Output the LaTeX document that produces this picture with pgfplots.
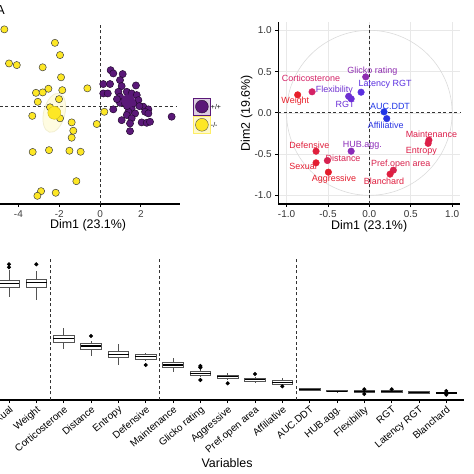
\documentclass[border=0pt]{standalone}
\usepackage{pgfplots}
\pgfplotsset{compat=1.18}
\usepgfplotslibrary{statistics}
\usepackage{fontspec}
\setmainfont{Liberation Sans}

\definecolor{vpurple}{HTML}{5A1878}
\definecolor{vyellow}{HTML}{FDE725}
\definecolor{cWeight}{HTML}{E8202A}
\definecolor{cCort}{HTML}{D42266}
\definecolor{cDef}{HTML}{E0203C}
\definecolor{cSex}{HTML}{E41C30}
\definecolor{cAggr}{HTML}{E31C2C}
\definecolor{cDist}{HTML}{D62250}
\definecolor{cMaint}{HTML}{DC1F4C}
\definecolor{cEntr}{HTML}{DD1F48}
\definecolor{cPref}{HTML}{D8244E}
\definecolor{cBlan}{HTML}{DF1F40}
\definecolor{cHUB}{HTML}{8A2BB8}
\definecolor{cGlicko}{HTML}{8E2CB0}
\definecolor{cFlex}{HTML}{6E2FD0}
\definecolor{cRGT}{HTML}{6A2DD6}
\definecolor{cLat}{HTML}{5A2FE0}
\definecolor{cAUC}{HTML}{1F35E6}
\definecolor{cAffil}{HTML}{2A35E2}

\newcommand{\tickfont}{\fontsize{10}{12}\selectfont}
\newcommand{\titlefont}{\fontsize{12.5}{15}\selectfont}
\newcommand{\varfont}{\fontsize{9}{10.5}\selectfont}

\pgfplotsset{
  pcadash/.style={black!80, line width=0.7bp, dash pattern=on 3bp off 2.5bp},
  bx/.style={
    draw=gray!65!black, line width=0.8bp, solid,
    mark=*, mark size=1.6bp, mark options={fill=black, draw=black},
    boxplot/draw direction=y,
    boxplot/whisker extend=0,
    boxplot/box extend=0.76,
    boxplot/every box/.style={fill=white, draw=gray!65!black, line width=0.8bp},
    boxplot/every whisker/.style={gray!65!black, line width=0.8bp},
    boxplot/every median/.style={black, line width=1.2bp},
  },
  vpt/.style={only marks, mark=*, mark size=3.3bp, mark options={fill=#1, draw=#1}},
}

\begin{document}
\begin{tikzpicture}
\useasboundingbox (0bp,0bp) rectangle (474bp,474bp);
\clip (0bp,0bp) rectangle (474bp,474bp);

% ---------- individuals map ----------
\begin{axis}[
  at={(-22.4bp,270bp)}, anchor=south west, scale only axis,
  width=202bp, height=183.6bp,
  xmin=-6, xmax=3.9, ymin=-4.8, ymax=4.2,
  axis x line=bottom, axis y line=none,
  axis line style={-, line width=1.1bp, black},
  xtick={-4,-2,0,2}, xticklabels={-4,-2,0,2},
  tick align=outside, major tick length=3bp,
  tick style={black, line width=0.8bp},
  xticklabel style={font=\tickfont, text=black!75},
  xlabel={Dim1 (23.1\%)},
  xlabel style={at={(axis description cs:0.547,-0.114)}, anchor=center, font=\titlefont},
  clip=false,
  legend style={at={(axis cs:4.54,0.43)}, anchor=north west, draw=none, fill=none,
    inner sep=0pt, row sep=0pt, font=\fontsize{7}{8}\selectfont,
    nodes={inner sep=0pt, text depth=0pt}},
  legend cell align=left,
  /tikz/every even column/.append style={column sep=4bp},
]
\addlegendimage{legend image code/.code={
  \draw[draw=vpurple, fill=vpurple!22, line width=0.8bp] (0bp,-8.7bp) rectangle (17.3bp,8.7bp);
  \draw[fill=vpurple, draw=black!60!vpurple, line width=0.4bp] (8.65bp,0bp) circle (6.4bp);}}
\addlegendentry{+/+}
\addlegendimage{legend image code/.code={
  \draw[draw=vyellow!70!white, fill=vyellow!25, line width=0.8bp] (0bp,-8.7bp) rectangle (17.3bp,8.7bp);
  \draw[fill=vyellow, draw=black!70, line width=0.4bp] (8.65bp,0bp) circle (6.4bp);}}
\addlegendentry{-/-}

\addplot[pcadash, forget plot] coordinates {(-6,0) (3.77,0)};
\addplot[pcadash, forget plot] coordinates {(0,-4.8) (0,3.97)};

% -/- animals
\addplot[only marks, mark=*, mark size=3.6bp, forget plot,
  mark options={fill=vyellow, draw=black!75, line width=0.5bp}] coordinates {
  (-4.69,3.76) (-2.21,3.10) (-1.96,2.50) (-4.46,2.09) (-4.08,2.01)
  (-2.81,1.90) (-1.91,1.41) (-2.53,0.85) (-3.14,0.65) (-2.81,0.67)
  (-1.85,0.78) (-0.62,0.87) (-3.05,0.21) (-2.01,0.34) (0.21,-0.28)
  (-3.32,-0.48) (-2.45,-0.06) (-1.96,-0.60) (-0.16,-0.88) (-1.39,-0.80)
  (-1.31,-1.21) (-1.39,-1.55) (-3.30,-2.25) (-2.50,-2.16) (-1.50,-2.19)
  (-0.95,-2.24) (-1.16,-3.68) (-2.89,-4.17) (-3.07,-4.40) (-2.17,-4.25)
};
% +/+ animals
\addplot[only marks, mark=*, mark size=3.6bp, forget plot,
  mark options={fill=vpurple, draw=black!60!vpurple, line width=0.5bp}] coordinates {
  (0.52,1.76) (0.65,1.60) (1.11,1.57) (0.16,1.08) (0.49,1.08)
  (0.98,1.27) (1.76,1.01) (1.06,0.98) (0.16,0.62) (0.38,0.62)
  (0.90,0.70) (1.31,0.70) (1.55,0.62) (0.98,0.46) (1.80,0.54)
  (1.06,0.21) (1.88,0.29) (0.98,0.16) (2.12,-0.03) (2.37,-0.16)
  (0.65,-0.16) (1.55,-0.11) (1.93,0.00) (2.21,-0.28) (1.39,-0.28)
  (1.72,-0.36) (1.31,-0.44) (2.37,-0.36) (3.51,-0.52) (1.55,-0.60)
  (1.06,-0.69) (2.04,-0.80) (2.29,-0.82) (2.45,-0.77) (1.47,-0.85)
  (1.47,-1.23) (1.23,0.13) (1.63,0.13) (1.32,0.00) (0.83,0.34)
};
% concentration ellipse of the -/- group
\draw[draw=vyellow!75!black!20!white, fill=vyellow!40, fill opacity=0.35, line width=0.8bp,
  rotate around={-14:(axis cs:-2.24,-0.33)}] (axis cs:-2.24,-0.33) ellipse [x radius=0.52, y radius=0.98];
% group means
\addplot[only marks, mark=*, mark size=6.5bp, forget plot,
  mark options={fill=vyellow, draw=vyellow!80!black, line width=0.4bp}] coordinates {(-2.24,-0.33)};
\addplot[only marks, mark=*, mark size=6.5bp, forget plot,
  mark options={fill=vpurple, draw=vpurple, line width=0.4bp}] coordinates {(1.39,0.25)};
\end{axis}

% panel tag
\node[font=\fontsize{13}{15}\selectfont, anchor=center] at (0.5bp,463.5bp) {A};

% ---------- correlation circle ----------
\begin{axis}[
  at={(278.3bp,270bp)}, anchor=south west, scale only axis,
  width=181.7bp, height=181.5bp,
  xmin=-1.1, xmax=1.095, ymin=-1.105, ymax=1.095,
  axis x line*=bottom, axis y line*=left,
  axis line style={-, line width=1.1bp, black},
  xtick={-1,-0.5,0,0.5,1}, xticklabels={-1.0,-0.5,0.0,0.5,1.0},
  ytick={-1,-0.5,0,0.5,1}, yticklabels={-1.0,-0.5,0.0,0.5,1.0},
  tick align=outside, major tick length=3bp,
  tick style={black, line width=0.8bp},
  ticklabel style={font=\tickfont, text=black!80},
  grid=major, grid style={black!9, line width=0.5bp},
  xlabel={Dim1 (23.1\%)},
  xlabel style={at={(axis description cs:0.5,-0.125)}, anchor=center, font=\titlefont},
  ylabel={Dim2 (19.6\%)},
  ylabel style={at={(axis description cs:-0.174,0.5)}, anchor=center, font=\titlefont},
  clip=false,
]
\draw[black!14, line width=0.6bp] (axis cs:0,0) circle [radius=1];
\addplot[pcadash] coordinates {(-1.1,0) (1.095,0)};
\addplot[pcadash] coordinates {(0,-1.105) (0,1.095)};

\addplot[vpt=cWeight] coordinates {(-0.866,0.218)};
\addplot[vpt=cCort] coordinates {(-0.692,0.255)};
\addplot[vpt=cFlex] coordinates {(-0.25,0.20)};
\addplot[vpt=cRGT] coordinates {(-0.22,0.17)};
\addplot[vpt=cLat] coordinates {(-0.10,0.25)};
\addplot[vpt=cGlicko] coordinates {(-0.044,0.436)};
\addplot[vpt=cAUC] coordinates {(0.177,0.012)};
\addplot[vpt=cAffil] coordinates {(0.21,-0.07)};
\addplot[vpt=cMaint] coordinates {(0.72,-0.33)};
\addplot[vpt=cEntr] coordinates {(0.71,-0.37)};
\addplot[vpt=cDef] coordinates {(-0.644,-0.465)};
\addplot[vpt=cSex] coordinates {(-0.644,-0.606)};
\addplot[vpt=cDist] coordinates {(-0.507,-0.578)};
\addplot[vpt=cAggr] coordinates {(-0.495,-0.719)};
\addplot[vpt=cHUB] coordinates {(-0.22,-0.465)};
\addplot[vpt=cPref] coordinates {(0.29,-0.695)};
\addplot[vpt=cBlan] coordinates {(0.25,-0.743)};

\begin{scope}[font=\varfont]
\node[text=cCort] at (axis cs:-0.705,0.416) {Corticosterone};
\node[text=cWeight] at (axis cs:-0.894,0.141) {Weight};
\node[text=cFlex] at (axis cs:-0.423,0.271) {Flexibility};
\node[text=cRGT] at (axis cs:-0.294,0.100) {RGT};
\node[text=cGlicko] at (axis cs:0.036,0.505) {Glicko rating};
\node[text=cLat] at (axis cs:0.19,0.350) {Latency RGT};
\node[text=cAUC] at (axis cs:0.25,0.080) {AUC.DDT};
\node[text=cAffil] at (axis cs:0.197,-0.154) {Affiliative};
\node[text=cMaint] at (axis cs:0.75,-0.263) {Maintenance};
\node[text=cEntr] at (axis cs:0.628,-0.465) {Entropy};
\node[text=cDef] at (axis cs:-0.725,-0.396) {Defensive};
\node[text=cHUB] at (axis cs:-0.085,-0.396) {HUB.agg.};
\node[text=cDist] at (axis cs:-0.318,-0.550) {Distance};
\node[text=cSex] at (axis cs:-0.80,-0.646) {Sexual};
\node[text=cAggr] at (axis cs:-0.427,-0.804) {Aggressive};
\node[text=cPref] at (axis cs:0.38,-0.618) {Pref.open area};
\node[text=cBlan] at (axis cs:0.177,-0.828) {Blanchard};
\end{scope}
\end{axis}

% ---------- contributions ----------
\begin{axis}[
  at={(-18.3bp,74bp)}, anchor=south west, scale only axis,
  width=482.1bp, height=145bp,
  xmin=-1, xmax=16.64, ymin=0, ymax=14.5,
  axis x line=bottom, axis y line=none,
  axis line style={-, line width=1.1bp, black},
  xtick={0,...,16},
  xticklabels={Sexual,Weight,Corticosterone,Distance,Entropy,Defensive,Maintenance,Glicko rating,Aggressive,Pref.open area,Affiliative,AUC.DDT,HUB.agg.,Flexibility,RGT,Latency RGT,Blanchard},
  xticklabel style={font=\tickfont, rotate=40, anchor=north east, inner sep=1.5bp},
  tick align=outside, major tick length=3bp,
  tick style={black, line width=0.8bp},
  xlabel={Variables},
  xlabel style={at={(axis description cs:0.509,-0.434)}, anchor=center, font=\titlefont},
  clip=false,
]
\addplot[pcadash] coordinates {(1.5,0) (1.5,14.2)};
\addplot[pcadash] coordinates {(5.5,0) (5.5,14.2)};
\addplot[pcadash] coordinates {(10.5,0) (10.5,14.2)};

\addplot[bx, boxplot prepared={draw position=0, lower whisker=10.33, lower quartile=11.27, median=11.67, upper quartile=12.0, upper whisker=13.0}]
  table[row sep=\\, y index=0] {y\\ 13.27\\ 13.57\\};
\addplot[bx, boxplot prepared={draw position=1, lower whisker=10.0, lower quartile=11.27, median=11.73, upper quartile=12.07, upper whisker=12.9}]
  table[row sep=\\, y index=0] {y\\ 13.57\\};
\addplot[bx, boxplot prepared={draw position=2, lower whisker=5.1, lower quartile=5.77, median=6.17, upper quartile=6.5, upper whisker=7.23}]
  coordinates {};
\addplot[bx, boxplot prepared={draw position=3, lower whisker=4.43, lower quartile=5.1, median=5.4, upper quartile=5.67, upper whisker=5.93}]
  table[row sep=\\, y index=0] {y\\ 6.4\\};
\addplot[bx, boxplot prepared={draw position=4, lower whisker=3.5, lower quartile=4.27, median=4.57, upper quartile=4.87, upper whisker=5.6}]
  coordinates {};
\addplot[bx, boxplot prepared={draw position=5, lower whisker=3.93, lower quartile=4.1, median=4.33, upper quartile=4.57, upper whisker=4.73}]
  table[row sep=\\, y index=0] {y\\ 3.5\\};
\addplot[bx, boxplot prepared={draw position=6, lower whisker=2.77, lower quartile=3.27, median=3.5, upper quartile=3.73, upper whisker=4.23}]
  coordinates {};
\addplot[bx, boxplot prepared={draw position=7, lower whisker=2.33, lower quartile=2.5, median=2.63, upper quartile=2.83, upper whisker=3.07}]
  table[row sep=\\, y index=0] {y\\ 3.4\\ 3.25\\ 2.0\\};
\addplot[bx, boxplot prepared={draw position=8, lower whisker=2.0, lower quartile=2.17, median=2.33, upper quartile=2.47, upper whisker=2.67}]
  table[row sep=\\, y index=0] {y\\ 1.67\\};
\addplot[bx, boxplot prepared={draw position=9, lower whisker=1.67, lower quartile=1.83, median=2.03, upper quartile=2.2, upper whisker=2.33}]
  table[row sep=\\, y index=0] {y\\ 2.6\\};
\addplot[bx, boxplot prepared={draw position=10, lower whisker=1.5, lower quartile=1.6, median=1.77, upper quartile=1.93, upper whisker=2.17}]
  table[row sep=\\, y index=0] {y\\ 1.37\\};
\addplot[bx, boxplot prepared={draw position=11, lower whisker=0.88, lower quartile=0.97, median=1.07, upper quartile=1.15, upper whisker=1.25}]
  coordinates {};
\addplot[bx, boxplot prepared={draw position=12, lower whisker=0.76, lower quartile=0.82, median=0.87, upper quartile=0.92, upper whisker=0.98}]
  coordinates {};
\addplot[bx, boxplot prepared={draw position=13, lower whisker=0.66, lower quartile=0.72, median=0.83, upper quartile=0.94, upper whisker=1.0}]
  table[row sep=\\, y index=0] {y\\ 1.07\\ 0.6\\};
\addplot[bx, boxplot prepared={draw position=14, lower whisker=0.72, lower quartile=0.79, median=0.87, upper quartile=0.95, upper whisker=1.0}]
  table[row sep=\\, y index=0] {y\\ 1.07\\};
\addplot[bx, boxplot prepared={draw position=15, lower whisker=0.66, lower quartile=0.71, median=0.77, upper quartile=0.83, upper whisker=0.9}]
  coordinates {};
\addplot[bx, boxplot prepared={draw position=16, lower whisker=0.6, lower quartile=0.63, median=0.7, upper quartile=0.78, upper whisker=0.84}]
  table[row sep=\\, y index=0] {y\\ 0.9\\ 0.53\\};
\end{axis}
\end{tikzpicture}
\end{document}
